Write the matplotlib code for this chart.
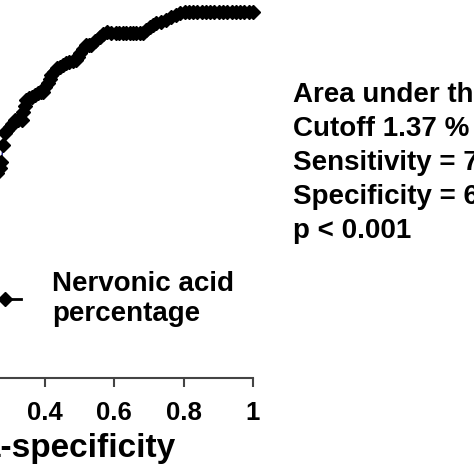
import matplotlib
matplotlib.use("Agg")
import matplotlib.pyplot as plt
from matplotlib.lines import Line2D

# ROC curve points (1 - specificity, sensitivity)
fpr = [0.262, 0.270, 0.275, 0.280, 0.285, 0.292, 0.299, 0.306, 0.314, 0.323,
       0.333, 0.338, 0.342, 0.347, 0.354, 0.362, 0.371, 0.381, 0.388, 0.395,
       0.402, 0.409, 0.414, 0.419, 0.426, 0.434, 0.443, 0.452, 0.462, 0.471,
       0.481, 0.491, 0.496, 0.501, 0.510, 0.520, 0.527, 0.534, 0.546, 0.558,
       0.568, 0.578, 0.592, 0.606, 0.615, 0.625, 0.635, 0.645, 0.654, 0.664,
       0.673, 0.683, 0.692, 0.702, 0.712, 0.721, 0.735, 0.750, 0.765, 0.779,
       0.791, 0.803, 0.815, 0.828, 0.840, 0.852, 0.865, 0.877, 0.889, 0.902,
       0.914, 0.926, 0.939, 0.951, 0.963, 0.975, 0.988, 1.000]
tpr = [0.560, 0.575, 0.591, 0.637, 0.669, 0.678, 0.686, 0.695, 0.705, 0.705,
       0.705, 0.728, 0.744, 0.760, 0.765, 0.769, 0.774, 0.779, 0.781, 0.782,
       0.795, 0.805, 0.817, 0.828, 0.837, 0.846, 0.851, 0.855, 0.860, 0.864,
       0.867, 0.869, 0.878, 0.887, 0.899, 0.910, 0.910, 0.910, 0.921, 0.933,
       0.940, 0.946, 0.942, 0.942, 0.942, 0.942, 0.942, 0.942, 0.942, 0.942,
       0.942, 0.942, 0.951, 0.960, 0.965, 0.969, 0.974, 0.978, 0.985, 0.992,
       0.996, 1.000, 1.000, 1.000, 1.000, 1.000, 1.000, 1.000, 1.000, 1.000,
       1.000, 1.000, 1.000, 1.000, 1.000, 1.000, 1.000, 1.000]

x_ticks = [0, 0.2, 0.4, 0.6, 0.8, 1.0]
x_tick_labels = ["0", "0.2", "0.4", "0.6", "0.8", "1"]
series_label = "Nervonic acid\npercentage"
stats_lines = ["Area under the curve = 0.78",
               "Cutoff 1.37 %",
               "Sensitivity = 73.5 %",
               "Specificity = 64.2 %",
               "p < 0.001"]

plt.rcParams['font.family'] = ['Liberation Sans', 'DejaVu Sans']
plt.rcParams['font.weight'] = 'bold'

W = H = 474
fig = plt.figure(figsize=(4.74, 4.74), dpi=100)
# axes: data x=0 at px -94, x=1 at px 253; y=0 at px 378, y=1 at px 12
ax = fig.add_axes([-94 / W, (H - 378) / H, 347 / W, 366 / H])
ax.set_xlim(0, 1)
ax.set_ylim(0, 1)

ax.plot(fpr, tpr, color='#1a1a8c', lw=1.0, marker='D', markersize=7.2,
        markerfacecolor='black', markeredgecolor='black', clip_on=False,
        label=series_label)

for s in ['top', 'right', 'left']:
    ax.spines[s].set_visible(False)
ax.spines['bottom'].set_color('#444444')
ax.spines['bottom'].set_linewidth(1.5)
ax.set_yticks([])
ax.set_xticks(x_ticks)
ax.set_xticklabels(x_tick_labels, fontsize=18.5, fontweight='bold')
ax.tick_params(axis='x', direction='out', length=6.2, width=1.5,
               color='#444444', pad=10.5)
ax.set_xlabel("1-specificity", fontsize=24, fontweight='bold', labelpad=5.5)

handle = Line2D([], [], color='black', lw=2, marker='D', markersize=7,
                markerfacecolor='black')
leg = ax.legend([handle], [series_label], loc='center left',
                bbox_to_anchor=(-12 / W, (H - 299) / H),
                bbox_transform=fig.transFigure, frameon=False,
                borderaxespad=0, borderpad=0, handlelength=1.2,
                handletextpad=1.1, labelspacing=0.3,
                prop={'size': 20, 'weight': 'bold'})
for t in leg.get_texts():
    t.set_linespacing(1.16)

y0 = 101.5
for i, line in enumerate(stats_lines):
    fig.text(293 / W, (H - (y0 + i * 34.2)) / H, line, fontsize=20,
             fontweight='bold', ha='left', va='baseline')

fig.savefig("out.png", dpi=100)
